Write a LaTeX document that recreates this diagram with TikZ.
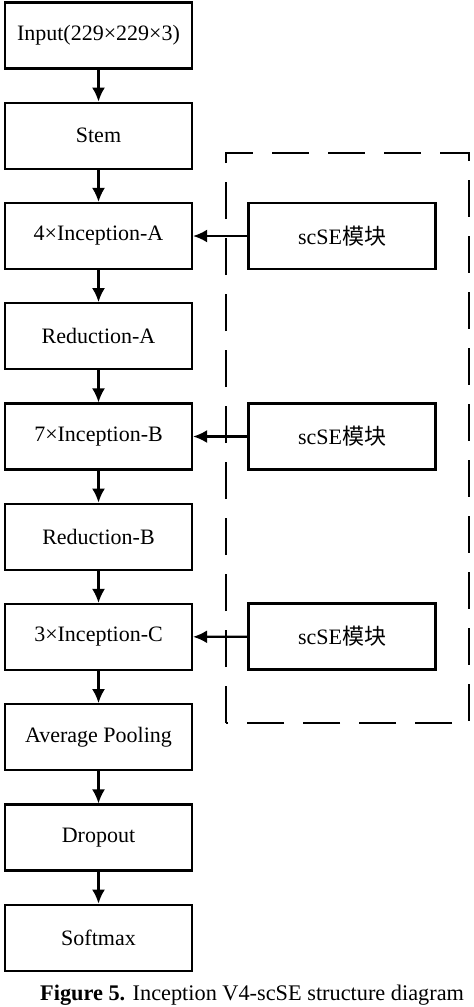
\documentclass[tikz,border=0pt]{standalone}
\usepackage{fontspec}
\setmainfont{Liberation Serif}
\newfontfamily\cjk{Noto Sans CJK SC}
\usetikzlibrary{arrows.meta}
\begin{document}
\begin{tikzpicture}[x=1pt,y=-1pt,
  blk/.style={draw, line width=2.2pt, minimum width=187pt, minimum height=66pt, inner sep=0pt,
    font=\fontsize{22}{26}\selectfont},
  conn/.style={line width=2.2pt, -{Latex[length=14pt,width=13pt]}},
  grp/.style={line width=2.2pt, dash pattern=on 37pt off 19pt}]
\useasboundingbox (0,0) rectangle (474,1007);
\begin{scope}
\clip (0,0) rectangle (474,1007);
\node[blk] (in) at (98.5,35.5) {Input(229×229×3)};
\node[blk] (stem) at (98.5,135.7) {Stem};
\node[blk] (ia) at (98.5,236) {4×Inception-A};
\node[blk] (ra) at (98.5,336.2) {Reduction-A};
\node[blk] (ib) at (98.5,436.5) {7×Inception-B};
\node[blk] (rb) at (98.5,536.7) {Reduction-B};
\node[blk] (ic) at (98.5,637) {3×Inception-C};
\node[blk] (ap) at (98.5,737.2) {Average Pooling};
\node[blk] (dp) at (98.5,837.5) {Dropout};
\node[blk] (sm) at (98.5,937.7) {Softmax};
\node[blk] (s1) at (342,236) {scSE{\cjk 模块}};
\node[blk] (s2) at (342,436.5) {scSE{\cjk 模块}};
\node[blk] (s3) at (342,636.5) {scSE{\cjk 模块}};
\draw[grp] (226,723) -- (226,153) -- (469,153) -- (469,723) -- cycle;
\foreach \a/\b in {in/stem,stem/ia,ia/ra,ra/ib,ib/rb,rb/ic,ic/ap,ap/dp,dp/sm}
  \draw[conn] (\a) -- (\b);
\draw[conn] (s1) -- (ia);
\draw[conn] (s2) -- (ib);
\draw[conn] (s3) -- (ic);
\node[anchor=base west, inner sep=0pt, font=\fontsize{22.3}{26}\selectfont] (cap) at (40,1000.5)
  {\textbf{Figure 5.} Inception V4-scSE structure diagram};
\end{scope}
\end{tikzpicture}
\end{document}
